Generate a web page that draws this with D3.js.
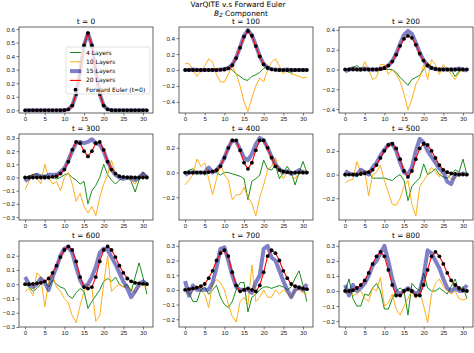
<!DOCTYPE html>
<html>
<head>
<meta charset="utf-8">
<script src="https://cdn.jsdelivr.net/npm/d3@7"></script>
<style>
  body { margin: 0; background: #fff; }
  svg { display: block; font-family: "DejaVu Sans", sans-serif; }
  .tick text { font-size: 6.2px; fill: #222; }
  .tick line { stroke: #222; stroke-width: 0.6; }
</style>
</head>
<body>
<svg id="chart" width="474" height="353"></svg>
<script>
// lattice sites and time snapshots
const sites = [0,1,2,3,4,5,6,7,8,9,10,11,12,13,14,15,16,17,18,19,20,21,22,23,24,25,26,27,28,29,30,31];
const times = [0, 100, 200, 300, 400, 500, 600, 700, 800];
const xTicks = [0, 5, 10, 15, 20, 25, 30];
const yTicks = [
  [0, 0.1, 0.2, 0.3, 0.4, 0.5, 0.6],
  [-0.4, -0.2, 0, 0.2, 0.4],
  [-0.4, -0.2, 0, 0.2, 0.4],
  [-0.3, -0.2, -0.1, 0, 0.1, 0.2, 0.3],
  [-0.2, 0, 0.2],
  [-0.2, 0, 0.2],
  [-0.3, -0.2, -0.1, 0, 0.1, 0.2],
  [-0.2, -0.1, 0, 0.1, 0.2, 0.3],
  [-0.2, -0.1, 0, 0.1, 0.2, 0.3]
];
const yDomains = [
  [-0.02, 0.615], [-0.54, 0.54], [-0.44, 0.43],
  [-0.3225, 0.33], [-0.384, 0.312], [-0.383, 0.342],
  [-0.3, 0.303], [-0.253, 0.333], [-0.239, 0.332]
];

// 4 layers (green)
const layers4 = [
  [0,0,0,0,0,0,0,0,0,0,0.001,0.007,0.035,0.12,0.285,0.48,0.57,0.48,0.285,0.12,0.035,0.007,0.001,0,0,0,0,0,0,0,0,0],
  [0,0.005,0.01,0.0,-0.01,0.0,0.01,0.0,0.0,0.01,0.03,0.03,0.0,-0.05,-0.08,-0.12,-0.13,-0.08,-0.06,-0.03,0.02,0.05,0.01,0.0,0.0,0.0,-0.02,-0.04,0.0,0.0,0.0,0.0],
  [0.0,0.01,0.02,0.04,0.01,0.0,0.01,0.0,0.01,0.0,0.0,0.0,0.0,-0.03,-0.08,-0.12,-0.16,-0.1,-0.08,-0.06,0.0,0.07,0.02,0.0,0.0,0.0,0.0,0.0,-0.07,-0.02,0.0,0.0],
  [0.0,0.01,0.02,0.03,0.0,0.02,0.0,0.0,-0.01,0.0,0.02,0.03,0.0,-0.02,-0.05,-0.03,-0.2,-0.1,-0.06,0.0,0.1,0.02,-0.02,-0.05,-0.02,0.0,0.0,-0.03,-0.11,-0.02,0.04,0.0],
  [0.0,0.02,0.03,0.0,0.01,-0.02,0.0,0.01,0.0,-0.02,0.0,0.0,-0.01,-0.02,-0.03,-0.05,-0.22,-0.07,-0.05,-0.02,0.1,0.03,0.02,0.06,-0.05,0.0,0.05,0.0,-0.1,0.0,0.09,0.0],
  [-0.02,0.0,0.0,-0.02,0.01,0.03,0.02,-0.03,-0.03,-0.03,-0.03,-0.04,-0.05,-0.02,0.0,-0.05,-0.22,-0.1,-0.06,-0.03,0.09,0.0,0.02,0.05,0.0,-0.02,-0.03,0.0,0.04,0.02,0.13,0.0],
  [0.0,-0.02,-0.05,-0.03,0.0,0.02,-0.02,0.03,0.0,-0.02,-0.03,-0.08,-0.1,-0.06,-0.03,-0.05,-0.17,-0.12,-0.08,-0.04,0.02,0.04,0.02,0.05,0.0,-0.02,0.0,-0.05,0.05,0.15,0.05,-0.07],
  [0.0,-0.02,-0.08,-0.08,0.0,0.02,-0.03,0.0,0.03,-0.05,-0.1,-0.12,-0.08,0.0,0.05,0.05,-0.15,-0.05,-0.03,0.0,0.02,0.02,0.01,0.02,0.03,0.02,0.0,0.02,0.08,0.13,0.03,-0.08],
  [0.0,0.08,-0.05,-0.1,-0.1,-0.02,-0.03,0.02,0.05,0.0,-0.12,-0.12,-0.05,0.0,0.02,0.0,-0.16,0.05,0.02,0.0,0.12,0.02,0.0,0.0,0.02,0.0,-0.02,0.03,0.08,0.0,0.03,-0.05]
];

// 10 layers (orange)
const layers10 = [
  [0,0,0,0,0,0,0,0,0,0,0.001,0.007,0.035,0.12,0.285,0.48,0.57,0.48,0.285,0.12,0.035,0.007,0.001,0,0,0,0,0,0,0,0,0],
  [0.08,0.08,0.0,-0.08,-0.02,0.05,0.14,0.1,-0.06,-0.15,-0.15,-0.05,0.05,-0.05,-0.2,-0.4,-0.52,-0.35,-0.2,-0.1,-0.15,0.0,0.1,0.14,0.05,-0.05,0.0,-0.05,-0.06,-0.08,-0.1,-0.09],
  [0.0,0.0,0.03,0.0,-0.02,0.08,0.0,-0.1,-0.08,0.05,0.05,-0.05,0.0,-0.05,-0.12,-0.25,-0.41,-0.3,-0.15,-0.08,0.05,-0.1,0.1,0.05,-0.05,0.05,0.0,-0.05,-0.1,-0.03,0.0,0.0],
  [-0.09,-0.03,0.03,0.0,-0.05,0.1,0.0,-0.05,-0.03,-0.1,0.0,0.04,-0.05,-0.18,-0.12,-0.22,-0.27,-0.22,-0.29,-0.15,-0.05,0.02,0.13,0.03,0.0,0.0,0.0,-0.02,-0.05,0.0,0.03,0.0],
  [-0.1,-0.06,-0.02,0.11,0.05,0.08,-0.05,-0.18,-0.05,0.07,-0.02,-0.06,-0.22,-0.18,-0.18,-0.12,-0.2,-0.25,-0.35,-0.2,-0.1,0.02,0.05,0.12,0.02,-0.05,0.0,-0.02,-0.05,0.0,0.02,0.0],
  [-0.07,-0.05,-0.04,0.11,0.02,0.03,-0.18,0.0,0.02,0.08,-0.05,-0.15,-0.25,-0.26,-0.2,-0.1,-0.05,-0.25,-0.35,-0.1,-0.05,0.0,0.06,0.02,-0.02,0.05,0.0,-0.04,-0.03,0.0,0.02,-0.02],
  [-0.05,-0.03,-0.08,0.08,0.05,-0.16,0.02,0.06,-0.02,-0.05,-0.1,-0.13,-0.22,-0.27,-0.15,-0.05,0.0,-0.03,-0.26,-0.22,0.0,0.2,-0.05,-0.02,0.0,-0.02,-0.02,-0.03,-0.06,-0.02,0.0,-0.03],
  [-0.02,-0.03,-0.01,0.03,0.0,-0.03,-0.12,0.04,0.07,0.05,0.0,-0.1,-0.18,-0.22,-0.08,-0.05,-0.1,0.17,-0.08,-0.05,0.0,-0.05,-0.05,0.0,-0.03,0.0,-0.02,-0.05,0.0,0.0,-0.02,-0.03],
  [-0.02,0.0,-0.03,-0.02,0.0,-0.05,-0.07,0.02,0.0,0.09,-0.1,-0.08,-0.02,-0.12,-0.16,-0.1,-0.05,0.0,-0.05,0.0,-0.1,-0.21,-0.02,0.05,0.08,0.03,0.0,-0.02,0.0,-0.05,-0.06,-0.05]
];

// 15 layers (thick blue)
const layers15 = [
  [0,0,0,0,0,0,0,0,0,0,0.001,0.007,0.035,0.12,0.285,0.48,0.57,0.48,0.285,0.12,0.035,0.007,0.001,0,0,0,0,0,0,0,0,0],
  [0,0,0.005,0,0,0,0,0,0,0.005,0.01,0.025,0.065,0.155,0.29,0.43,0.5,0.44,0.31,0.175,0.075,0.03,0.01,0.005,0,0,0.005,0,0,0,0,0],
  [-0.02,0.0,0.01,0.0,0.0,0.01,0.0,0.0,0.0,0.005,0.015,0.04,0.085,0.16,0.26,0.35,0.39,0.36,0.27,0.17,0.09,0.04,0.015,0.005,0.0,0.0,0.0,0.0,0.0,0.01,0.0,-0.01],
  [-0.03,0.0,0.01,0.02,0.01,0.0,0.02,0.02,0.02,0.04,0.07,0.13,0.2,0.26,0.27,0.26,0.27,0.29,0.26,0.25,0.2,0.12,0.06,0.02,0.0,-0.01,0.0,0.0,-0.02,0.0,0.03,0.0],
  [-0.02,0.0,0.0,0.0,0.0,0.0,0.04,0.0,0.02,0.06,0.12,0.2,0.26,0.25,0.19,0.12,0.1,0.15,0.23,0.28,0.26,0.2,0.13,0.06,0.03,0.0,0.01,-0.01,0.0,0.02,0.0,0.0],
  [0.03,0.01,0.0,0.0,0.04,0.02,0.0,0.06,0.1,0.16,0.21,0.25,0.26,0.2,0.1,0.02,0.0,0.06,0.2,0.3,0.27,0.2,0.15,0.1,0.05,0.02,-0.06,-0.08,0.0,0.0,0.01,0.0],
  [0.05,0.0,-0.02,0.0,0.04,0.01,-0.04,0.05,0.12,0.2,0.25,0.26,0.22,0.12,0.03,-0.02,0.0,0.05,0.12,0.22,0.25,0.24,0.19,0.14,0.08,0.02,-0.03,-0.09,-0.05,0.0,0.02,0.0],
  [0.06,-0.04,0.03,0.0,0.0,0.0,0.0,0.05,0.15,0.28,0.29,0.2,0.1,0.02,0.0,0.0,0.0,-0.02,0.05,0.1,0.28,0.3,0.22,0.2,0.13,0.06,0.0,-0.05,0.0,0.02,0.0,0.04],
  [0.04,-0.03,0.04,0.0,0.02,0.05,0.1,0.17,0.2,0.25,0.3,0.2,0.08,0.0,-0.02,0.0,0.02,0.0,-0.02,0.0,0.1,0.27,0.25,0.2,0.15,0.08,0.02,0.0,0.02,0.0,0.0,0.04]
];

// 20 layers (red), sits on top of the Euler points
const layers20 = [
  [0,0,0,0,0,0,0,0,0,0,0.001,0.007,0.035,0.12,0.285,0.48,0.57,0.48,0.285,0.12,0.035,0.007,0.001,0,0,0,0,0,0,0,0,0],
  [0,0,0,0,0,0,0,0,0,0.002,0.005,0.02,0.06,0.15,0.28,0.42,0.49,0.43,0.3,0.17,0.07,0.025,0.008,0.002,0,0,0,0,0,0,0,0],
  [0,0,0,0,0,0,0,0,0,0.005,0.015,0.04,0.08,0.15,0.24,0.31,0.34,0.32,0.25,0.16,0.09,0.04,0.015,0.005,0,0,0,0,0,0,0,0],
  [0,0,0,0,0,0,0,0.005,0.01,0.03,0.06,0.12,0.21,0.27,0.26,0.2,0.16,0.2,0.26,0.27,0.21,0.12,0.06,0.03,0.01,0.005,0,0,0,0,0,0],
  [0,0,0,0,0,0,0.003,0.01,0.02,0.05,0.12,0.2,0.26,0.26,0.18,0.08,0.03,0.08,0.18,0.26,0.26,0.2,0.12,0.05,0.02,0.01,0.003,0,0,0,0,0],
  [0,0,0,0,0.005,0.01,0.02,0.04,0.08,0.14,0.2,0.25,0.26,0.22,0.13,0.03,-0.02,0.03,0.13,0.22,0.26,0.25,0.2,0.14,0.08,0.04,0.02,0.01,0.005,0,0,0],
  [0,0,0.003,0.006,0.01,0.02,0.04,0.08,0.13,0.19,0.24,0.265,0.24,0.16,0.05,-0.02,-0.03,-0.02,0.05,0.16,0.24,0.265,0.24,0.19,0.13,0.08,0.04,0.02,0.01,0.006,0.003,0],
  [0,0.005,0.01,0.015,0.025,0.04,0.08,0.13,0.2,0.25,0.27,0.23,0.12,0.03,-0.01,0.0,0.01,0.0,-0.01,0.03,0.12,0.23,0.27,0.25,0.2,0.13,0.08,0.04,0.025,0.015,0.01,0.005],
  [0,0,0.005,0.02,0.04,0.07,0.12,0.18,0.23,0.26,0.23,0.14,0.04,-0.03,-0.03,0.0,0.01,0.0,-0.03,-0.03,0.04,0.14,0.23,0.26,0.23,0.18,0.12,0.07,0.04,0.02,0.005,0]
];

// Forward Euler reference (black dots)
const euler = [
  [0,0,0,0,0,0,0,0,0,0,0.001,0.007,0.035,0.12,0.285,0.48,0.57,0.48,0.285,0.12,0.035,0.007,0.001,0,0,0,0,0,0,0,0,0],
  [0,0,0,0,0,0,0,0,0,0.002,0.005,0.02,0.06,0.15,0.28,0.42,0.49,0.43,0.3,0.17,0.07,0.025,0.008,0.002,0,0,0,0,0,0,0,0],
  [0,0,0,0,0,0,0,0,0,0.005,0.015,0.04,0.08,0.15,0.24,0.31,0.34,0.32,0.25,0.16,0.09,0.04,0.015,0.005,0,0,0,0,0,0,0,0],
  [0,0,0,0,0,0,0,0.005,0.01,0.03,0.06,0.12,0.21,0.27,0.26,0.2,0.16,0.2,0.26,0.27,0.21,0.12,0.06,0.03,0.01,0.005,0,0,0,0,0,0],
  [0,0,0,0,0,0,0.003,0.01,0.02,0.05,0.12,0.2,0.26,0.26,0.18,0.08,0.03,0.08,0.18,0.26,0.26,0.2,0.12,0.05,0.02,0.01,0.003,0,0,0,0,0],
  [0,0,0,0,0.005,0.01,0.02,0.04,0.08,0.14,0.2,0.25,0.26,0.22,0.13,0.03,-0.02,0.03,0.13,0.22,0.26,0.25,0.2,0.14,0.08,0.04,0.02,0.01,0.005,0,0,0],
  [0,0,0.003,0.006,0.01,0.02,0.04,0.08,0.13,0.19,0.24,0.265,0.24,0.16,0.05,-0.02,-0.03,-0.02,0.05,0.16,0.24,0.265,0.24,0.19,0.13,0.08,0.04,0.02,0.01,0.006,0.003,0],
  [0,0.005,0.01,0.015,0.025,0.04,0.08,0.13,0.2,0.25,0.27,0.23,0.12,0.03,-0.01,0.0,0.01,0.0,-0.01,0.03,0.12,0.23,0.27,0.25,0.2,0.13,0.08,0.04,0.025,0.015,0.01,0.005],
  [0,0,0.005,0.02,0.04,0.07,0.12,0.18,0.23,0.26,0.23,0.14,0.04,-0.03,-0.03,0.0,0.01,0.0,-0.03,-0.03,0.04,0.14,0.23,0.26,0.23,0.18,0.12,0.07,0.04,0.02,0.005,0]
];

const seriesNames = ['4 Layers', '10 Layers', '15 Layers', '20 Layers', 'Forward Euler (t=0)'];

const svg = d3.select('#chart');

// panel grid
const colX = [19, 179, 339];
const rowY = [27, 134, 241];
const pw = 134, ph = 86;

const lineStyles = [
  {data: layers4, color: 'green', width: 0.9, opacity: 1},
  {data: layers10, color: 'orange', width: 0.9, opacity: 1},
  {data: layers15, color: '#00008b', width: 4, opacity: 0.5},
  {data: layers20, color: 'red', width: 1.1, opacity: 1}
];

// titles
svg.append('text')
  .attr('x', 238).attr('y', 6.5)
  .attr('text-anchor', 'middle')
  .attr('font-size', 7.4)
  .text('VarQITE v.s Forward Euler');

const sub = svg.append('text')
  .attr('x', 241).attr('y', 15.5)
  .attr('text-anchor', 'middle')
  .attr('font-size', 7.4);
sub.append('tspan').attr('font-style', 'italic').text('B');
sub.append('tspan').attr('font-style', 'italic').attr('font-size', 5.2).attr('dy', 1.5).text('Z');
sub.append('tspan').attr('dy', -1.5).text(' Component');

times.forEach((t, i) => {
  const left = colX[i % 3], top = rowY[Math.floor(i / 3)];

  const x = d3.scaleLinear().domain([-1.55, 32.55]).range([0, pw]);
  const y = d3.scaleLinear().domain(yDomains[i]).range([ph, 0]);

  const g = svg.append('g').attr('transform', `translate(${left},${top})`);

  g.append('text')
    .attr('x', pw / 2).attr('y', -3.5)
    .attr('text-anchor', 'middle')
    .attr('font-size', 7.4)
    .text(`t = ${t}`);

  const xAxis = d3.axisBottom(x).tickValues(xTicks).tickSize(2.5).tickPadding(1.5);
  g.append('g').attr('transform', `translate(0,${ph})`).call(xAxis)
    .call(a => a.select('.domain').remove());

  const yAxis = d3.axisLeft(y).tickValues(yTicks[i]).tickSize(2.5).tickPadding(1.5)
    .tickFormat(d3.format('.1f'));
  g.append('g').call(yAxis)
    .call(a => a.select('.domain').remove());

  const line = d3.line().x((d, j) => x(sites[j])).y(d => y(d));

  lineStyles.forEach(s => {
    g.append('path')
      .attr('d', line(s.data[i]))
      .attr('fill', 'none')
      .attr('stroke', s.color)
      .attr('stroke-width', s.width)
      .attr('stroke-opacity', s.opacity)
      .attr('stroke-linejoin', 'round');
  });

  g.selectAll('circle.dot').data(euler[i]).enter().append('circle')
    .attr('class', 'dot')
    .attr('cx', (d, j) => x(sites[j]))
    .attr('cy', d => y(d))
    .attr('r', 1.9)
    .attr('fill', 'black');

  g.append('rect')
    .attr('width', pw).attr('height', ph)
    .attr('fill', 'none')
    .attr('stroke', '#222')
    .attr('stroke-width', 0.7);

  // legend lives in the first panel
  if (i === 0) {
    const lg = g.append('g').attr('transform', 'translate(47,20)');
    lg.append('rect')
      .attr('width', 84).attr('height', 47).attr('rx', 1.5)
      .attr('fill', 'white').attr('fill-opacity', 0.8)
      .attr('stroke', '#ccc').attr('stroke-width', 0.6);
    seriesNames.forEach((name, k) => {
      const ly = 5.5 + k * 9.3;
      if (k < 4) {
        const s = lineStyles[k];
        lg.append('line')
          .attr('x1', 4).attr('x2', 15).attr('y1', ly).attr('y2', ly)
          .attr('stroke', s.color).attr('stroke-width', s.width)
          .attr('stroke-opacity', s.opacity);
      } else {
        lg.append('circle').attr('cx', 9.5).attr('cy', ly).attr('r', 1.9).attr('fill', 'black');
      }
      lg.append('text')
        .attr('x', 20).attr('y', ly + 2)
        .attr('font-size', 6)
        .text(name);
    });
  }
});
</script>
</body>
</html>
